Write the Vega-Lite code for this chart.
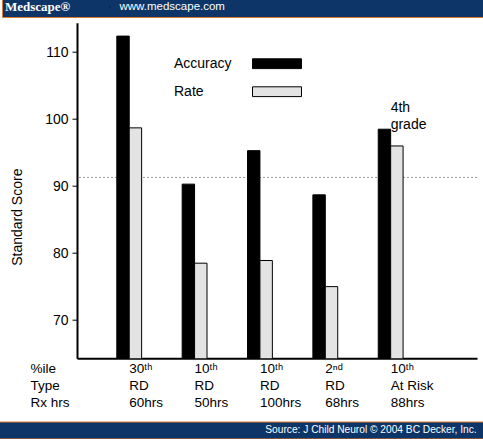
{
  "$schema": "https://vega.github.io/schema/vega-lite/v6.json",
  "width": 400,
  "height": 335.6,
  "autosize": "none",
  "padding": {"left": 77, "top": 22.7, "right": 6, "bottom": 80.7},
  "background": "white",
  "config": {
    "view": {"stroke": null},
    "font": "Liberation Sans",
    "axis": {"labelFont": "Liberation Sans", "titleFont": "Liberation Sans", "labelColor": "black", "titleColor": "black"}
  },
  "data": {
    "values": [
      {"group": "30ᵗʰ|RD|60hrs", "series": "Accuracy", "score": 112.4},
      {"group": "30ᵗʰ|RD|60hrs", "series": "Rate", "score": 98.7},
      {"group": "10ᵗʰ|RD|50hrs", "series": "Accuracy", "score": 90.3},
      {"group": "10ᵗʰ|RD|50hrs", "series": "Rate", "score": 78.5},
      {"group": "10ᵗʰ|RD|100hrs", "series": "Accuracy", "score": 95.3},
      {"group": "10ᵗʰ|RD|100hrs", "series": "Rate", "score": 78.9},
      {"group": "2ⁿᵈ|RD|68hrs", "series": "Accuracy", "score": 88.7},
      {"group": "2ⁿᵈ|RD|68hrs", "series": "Rate", "score": 75.0},
      {"group": "10ᵗʰ|At Risk|88hrs", "series": "Accuracy", "score": 98.5},
      {"group": "10ᵗʰ|At Risk|88hrs", "series": "Rate", "score": 96.0}
    ]
  },
  "layer": [
    {
      "data": {"values": [{"ref": "footer"}]},
      "mark": {"type": "rule", "color": "#9a9a9a", "strokeWidth": 1},
      "encoding": {
        "y": {"datum": 91.3, "type": "quantitative"},
        "strokeDash": {
          "field": "ref",
          "type": "nominal",
          "scale": {"range": [[2, 2]]},
          "legend": {
            "title": null,
            "orient": "none",
            "legendX": -78,
            "legendY": 398.8,
            "padding": 3,
            "fillColor": "#0d3567",
            "strokeColor": "#e07a2a",
            "symbolOpacity": 0,
            "symbolSize": 1,
            "labelFont": "Liberation Sans",
            "labelFontSize": 10.2,
            "labelColor": "white",
            "labelLimit": 3000,
            "labelExpr": "'\u200b' + pad('', 88, '\u00a0') + 'Source: J Child Neurol © 2004 BC Decker, Inc.' + pad('', 2, '\u00a0') + '\u200b'"
          }
        }
      }
    },
    {
      "mark": {"type": "bar", "stroke": "black", "strokeWidth": 1, "clip": true},
      "encoding": {
        "x": {
          "field": "group",
          "type": "nominal",
          "sort": null,
          "scale": {"paddingInner": 0.62, "paddingOuter": 0.87, "align": 0.35},
          "axis": {
            "orient": "bottom",
            "bandPosition": 0,
            "labelExpr": "split(datum.value, '|')",
            "labelAlign": "left",
            "labelBaseline": "top",
            "labelFontSize": 13.5,
            "labelLineHeight": 17,
            "labelPadding": 3,
            "labelAngle": 0,
            "ticks": false,
            "domain": true,
            "domainColor": "black",
            "domainWidth": 2,
            "grid": false,
            "title": ["%ile", "Type", "Rx hrs"],
            "titleFontSize": 13.5,
            "titleFontWeight": "normal",
            "titleLineHeight": 17,
            "titleAlign": "left",
            "titleBaseline": "top",
            "titleX": -47,
            "titleY": 3
          }
        },
        "xOffset": {"field": "series", "type": "nominal", "sort": ["Accuracy", "Rate"]},
        "y": {
          "field": "score",
          "type": "quantitative",
          "scale": {"domain": [64.3, 114.4], "nice": false, "zero": false},
          "axis": {
            "values": [70, 80, 90, 100, 110],
            "grid": false,
            "domainColor": "black",
            "domainWidth": 2,
            "tickColor": "black",
            "tickSize": 5,
            "tickWidth": 1,
            "labelFontSize": 14,
            "labelPadding": 4,
            "title": "Standard Score",
            "titleFontSize": 14,
            "titleFontWeight": "normal",
            "titleAngle": -90,
            "titleAlign": "center",
            "titleBaseline": "middle",
            "titleX": -60,
            "titleY": 194
          }
        },
        "color": {
          "field": "series",
          "type": "nominal",
          "scale": {"domain": ["Accuracy", "Rate"], "range": ["#000000", "#e3e3e3"]},
          "legend": {
            "title": null,
            "orient": "none",
            "legendX": 97,
            "legendY": 34,
            "padding": 0,
            "labelFont": "Liberation Sans",
            "labelFontSize": 14,
            "labelColor": "black",
            "symbolType": "M-5,-1H5V1H-5Z",
            "symbolSize": 96,
            "symbolStrokeColor": "black",
            "symbolStrokeWidth": 1,
            "symbolOffset": 96,
            "labelOffset": -110,
            "rowPadding": 14
          }
        }
      }
    },
    {
      "data": {"values": [{"group": "10ᵗʰ|At Risk|88hrs", "note": "4th grade"}]},
      "mark": {"type": "text", "align": "left", "baseline": "middle", "fontSize": 14, "lineBreak": " ", "lineHeight": 17, "color": "black", "font": "Liberation Sans"},
      "encoding": {
        "x": {"field": "group", "type": "nominal", "sort": null},
        "y": {"datum": 101.6, "type": "quantitative"},
        "text": {"field": "note"},
        "opacity": {
          "field": "note",
          "type": "nominal",
          "scale": {"type": "ordinal", "range": [1]},
          "legend": {
            "title": "Medscape®",
            "titleOrient": "left",
            "titleFont": "Liberation Serif",
            "titleFontSize": 13,
            "titleFontWeight": "bold",
            "titleColor": "white",
            "titlePadding": 33,
            "orient": "none",
            "legendX": -75,
            "legendY": -24.7,
            "padding": 3,
            "fillColor": "#0d3567",
            "strokeColor": "#e07a2a",
            "symbolOpacity": 0,
            "symbolSize": 1,
            "labelFont": "Liberation Sans",
            "labelFontSize": 11.5,
            "labelColor": "white",
            "labelLimit": 3000,
            "labelExpr": "'www.medscape.com' + pad('', 80, '\u00a0') + '\u200b'"
          }
        }
      }
    }
  ]
}
